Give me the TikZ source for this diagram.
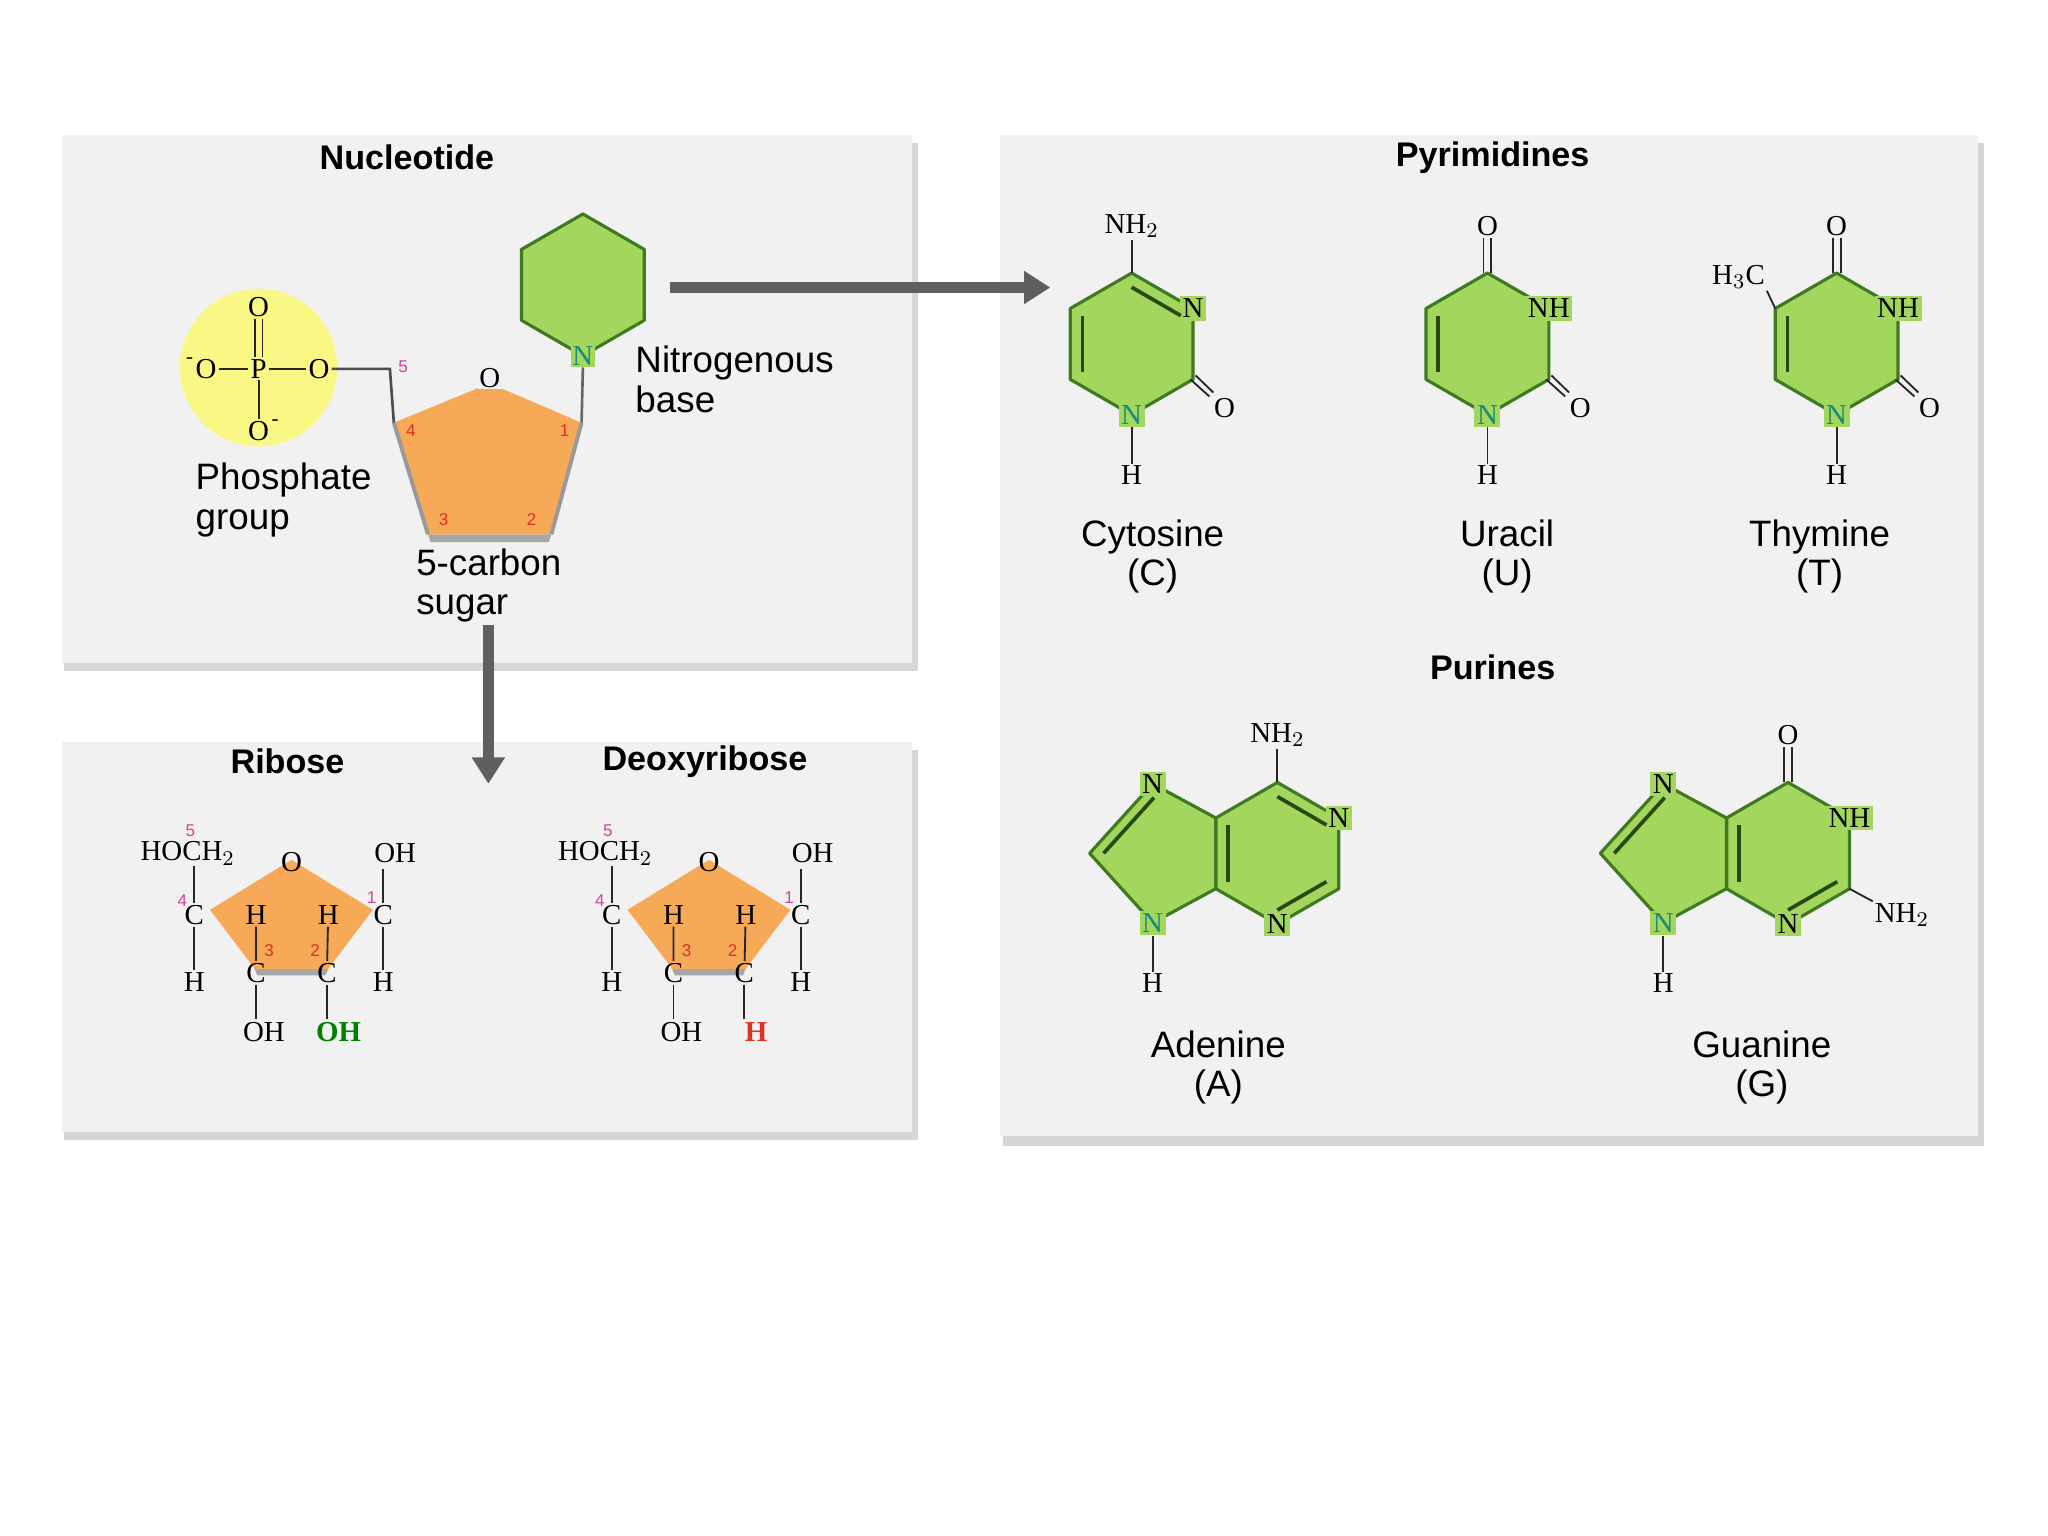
\documentclass[tikz,border=0pt]{standalone}
\usepackage{fontspec}
\setmainfont{Liberation Sans}
\newfontfamily\chem{Liberation Serif}
\usetikzlibrary{calc,arrows.meta}
\definecolor{panel}{HTML}{F1F1F1}
\definecolor{pshadow}{HTML}{D6D6D6}
\definecolor{ringgreen}{HTML}{A3D65C}
\definecolor{ringedge}{HTML}{3F7A22}
\definecolor{sugar}{HTML}{F6A957}
\definecolor{pyel}{HTML}{FAF885}
\definecolor{teal}{HTML}{1A8A7A}
\definecolor{magnum}{HTML}{D0459A}
\definecolor{rednum}{HTML}{E0301E}
\definecolor{arr}{HTML}{5F5F5F}
\tikzset{
 panelbox/.style={fill=panel,draw=none},
 shadowbox/.style={fill=pshadow,draw=none},
 title/.style={font=\fontsize{13}{15}\selectfont\bfseries},
 lbl/.style={font=\fontsize{14}{15}\selectfont,align=left,anchor=west},
 clbl/.style={font=\fontsize{14}{15}\selectfont,align=center},
 atom/.style={font=\chem\fontsize{11}{12}\selectfont,inner sep=0.6pt},
 ring/.style={fill=ringgreen,draw=ringedge,line width=1.2pt,line join=round},
 dblb/.style={draw=ringedge!60!black,line width=1.4pt},
 bond/.style={draw=black!85,line width=0.7pt},
 num/.style={font=\fontsize{6.5}{7}\selectfont,inner sep=0pt},
 bigarrow/.style={draw=arr,line width=4pt,-{Triangle[length=10pt,width=12pt]}},
}
\newcommand\hexring[2]{%
 \coordinate (#1c) at (#2);
 \foreach \i/\a in {t/270,ur/330,lr/30,b/90,ll/150,ul/210}{\coordinate (#1\i) at ($(#2)+(\a:54)$);}
 \draw[ring] (#1t)--(#1ur)--(#1lr)--(#1b)--(#1ll)--(#1ul)--cycle;}
\newcommand\dbl[3]{\draw[dblb] ($(#1)!0.2!(#3)$) -- ($(#2)!0.2!(#3)$);}
\begin{document}
\begin{tikzpicture}[x=0.5pt,y=-0.5pt]
\useasboundingbox[fill=white] (0,0) rectangle (1560,1170);
% panels
\fill[shadowbox] (49,109) rectangle (699,511);
\fill[panelbox] (47,103) rectangle (695,505);
\fill[shadowbox] (49,571) rectangle (699,868);
\fill[panelbox] (47,565) rectangle (695,862);
\fill[shadowbox] (764,109) rectangle (1511,873);
\fill[panelbox] (762,103) rectangle (1507,865);
\node[title] (tnuc) at (310,120) {Nucleotide};
\node[title] (tpyr) at (1137,120) {Pyrimidines};
\node[title] (tpur) at (1137,508) {Purines};
\node[title] (trib) at (219,580) {Ribose};
\node[title] (tdeo) at (537,580) {Deoxyribose};
% phosphate
\fill[pyel] (197,280) circle (60);
\node[atom] (P) at (197,281) {P};
\node[atom] (O1) at (157,281) {O};
\node[atom,anchor=east,inner sep=0pt] at ($(O1.west)+(0,-6)$) {\fontsize{8}{8}\selectfont -};
\node[atom] (O2) at (243,281) {O};
\node[atom] (O3) at (197,234) {O};
\node[atom] (O4) at (197,328) {O};
\node[atom,anchor=west,inner sep=0pt] at ($(O4.east)+(0,-6)$) {\fontsize{8}{8}\selectfont -};
\draw[bond] (O1)--(P) (P)--(O2);
\draw[bond] ([xshift=-1.5]P.north)--([xshift=-1.5]O3.south) ([xshift=1.5]P.north)--([xshift=1.5]O3.south);
\draw[bond] (P)--(O4);
% sugar
\coordinate (s0) at (373,292);
\coordinate (s1) at (443,322);
\coordinate (s2) at (420,407);
\coordinate (s3) at (326,407);
\coordinate (s4) at (300,322);
\fill[gray!70] (s3) -- (s2) -- ($(s2)+(-2,6)$) -- ($(s3)+(2,6)$) -- cycle;
\fill[sugar] (s0)--(s1)--(s2)--(s3)--(s4)--cycle;
\draw[gray!80,line width=1.5pt] (s1)--(s2) (s3)--(s4);
\node[atom,fill=panel] (sO) at (373,288) {O};
\node[num,text=rednum] at (313,328) {4};
\node[num,text=rednum] at (430,328) {1};
\node[num,text=rednum] at (338,396) {3};
\node[num,text=rednum] at (405,396) {2};
\coordinate (c5) at (297,281);
\draw[black!70,line width=1pt] (O2.east) -- (c5) -- (s4);
\node[num,text=magnum] at (307,279) {5};
% base hexagon
\hexring{nb}{444,217}
\node[atom,fill=ringgreen,text=teal] (nbN) at (nbb) {N};
\draw[black!60,line width=1pt] (nbN.south) -- (s1);
\node[lbl] (lnb) at (477,289) {Nitrogenous\\base};
\node[lbl] (lph) at (142,381) {Phosphate\\group};
\node[lbl] (lsu) at (310,446) {5-carbon\\sugar};
% arrows
\coordinate (a1s) at (510,219); \coordinate (a1e) at (800,219);
\draw[bigarrow] (a1s) -- (a1e);
\coordinate (a2s) at (372,476); \coordinate (a2e) at (372,597);
\draw[bigarrow] (a2s) -- (a2e);
% pyrimidines
\foreach \nm/\cx/\top/\ur in {cy/862/{NH$_2$}/N, ur/1133/O/NH, th/1399/O/NH}{
 \hexring{\nm}{\cx,262}
 \dbl{\nm ll}{\nm ul}{\nm c}
 \node[atom] (\nm T) at ($(\nm t)+(0,-36)$) {\top};
 \node[atom,fill=ringgreen,inner sep=1pt] (\nm N1) at (\nm ur) {\ur};
 \node[atom,text=teal,fill=ringgreen,inner sep=1pt] (\nm N3) at (\nm b) {N};
 \node[atom] (\nm H) at ($(\nm b)+(0,46)$) {H};
 \node[atom] (\nm O) at ($(\nm lr)+(24,22)$) {O};
 \draw[bond] (\nm N3.south)--(\nm H.north);
 \draw[bond] ([shift={(-2,0)}]\nm lr)--([shift={(-2,0)}]\nm O.north west) ([shift={(2,-3)}]\nm lr)--([shift={(1,-3)}]\nm O.north west);
}
\draw[bond] (cyt)--(cyT.south);
\dbl{cyt}{cyur}{cyc}
\foreach \nm in {ur,th}{
 \draw[bond] ([xshift=-1.5]\nm t)--([xshift=-1.5]\nm T.south) ([xshift=1.5]\nm t)--([xshift=1.5]\nm T.south);}
\node[atom] (thMe) at ($(thul)+(-28,-24)$) {H$_3$C};
\draw[bond] (thul)--(thMe.south east);
\node[clbl] (lcy) at (878,424) {Cytosine\\(C)};
\node[clbl] (lur) at (1148,424) {Uracil\\(U)};
\node[clbl] (lth) at (1386,424) {Thymine\\(T)};
% purines
\foreach \nm/\cx in {ad/973,gu/1362}{
 \coordinate (\nm p1) at ($(\cx,650)+(-47,-27)$);
 \coordinate (\nm p2) at ($(\cx,650)+(-95,-53)$);
 \coordinate (\nm p3) at ($(\cx,650)+(-143,0)$);
 \coordinate (\nm p4) at ($(\cx,650)+(-95,53)$);
 \coordinate (\nm p5) at ($(\cx,650)+(-47,27)$);
 \coordinate (\nm pc) at ($(\cx,650)+(-90,0)$);
 \draw[ring] (\nm p1)--(\nm p2)--(\nm p3)--(\nm p4)--(\nm p5)--cycle;
 \hexring{\nm}{\cx,650}
 \dbl{\nm p2}{\nm p3}{\nm pc}
 \dbl{\nm ll}{\nm ul}{\nm c}
 \node[atom,fill=ringgreen,inner sep=1pt] (\nm N7) at (\nm p2) {N};
 \node[atom,text=teal,fill=ringgreen,inner sep=1pt] (\nm N9) at (\nm p4) {N};
 \node[atom] (\nm H) at ($(\nm p4)+(0,46)$) {H};
 \draw[bond] (\nm N9.south)--(\nm H.north);
 \node[atom,fill=ringgreen,inner sep=1pt] (\nm N3) at (\nm b) {N};
}
\node[atom,fill=ringgreen,inner sep=1pt] (adN1) at (adur) {N};
\dbl{adt}{adur}{adc}
\dbl{adlr}{adb}{adc}
\node[atom] (adT) at ($(adt)+(0,-36)$) {NH$_2$};
\draw[bond] (adt)--(adT.south);
\node[atom,fill=ringgreen,inner sep=1pt] (guN1) at (guur) {NH};
\dbl{gulr}{gub}{guc}
\node[atom] (guT) at ($(gut)+(0,-36)$) {O};
\draw[bond] ([xshift=-1.5]gut)--([xshift=-1.5]guT.south) ([xshift=1.5]gut)--([xshift=1.5]guT.south);
\node[atom] (guA) at ($(gulr)+(40,20)$) {NH$_2$};
\draw[bond] (gulr)--(guA.north west);
\node[clbl] (lad) at (928,813) {Adenine\\(A)};
\node[clbl] (lgu) at (1342,813) {Guanine\\(G)};
% ribose / deoxyribose
\foreach \nm/\dx/\last/\lc in {rb/0/OH/{green!50!black}, dr/318/H/rednum}{
 \begin{scope}[xshift=\dx*0.5pt]
 \coordinate (\nm v1) at (160,693); \coordinate (\nm v0) at (222,655);
 \coordinate (\nm v2) at (284,693); \coordinate (\nm v3) at (250,738); \coordinate (\nm v4) at (194,738);
 \fill[gray!70] (\nm v4)--(\nm v3)--($(\nm v3)+(-2,5)$)--($(\nm v4)+(2,5)$)--cycle;
 \fill[sugar] (\nm v0)--(\nm v2)--(\nm v3)--(\nm v4)--(\nm v1)--cycle;
 \node[atom] (\nm O) at (222,657) {O};
 \node[atom] (\nm C4) at (148,697) {C};
 \node[atom] (\nm C1) at (292,697) {C};
 \node[atom] (\nm C3) at (195,741) {C};
 \node[atom] (\nm C2) at (249,741) {C};
 \node[atom] (\nm Ha) at (195,697) {H};
 \node[atom] (\nm Hb) at (250,697) {H};
 \node[atom] (\nm HO) at (143,650) {HOCH$_2$};
 \node[atom] (\nm OHt) at (301,650) {OH};
 \node[atom] (\nm H4) at (148,748) {H};
 \node[atom] (\nm H1) at (292,748) {H};
 \node[atom] (\nm OH3) at (201,786) {OH};
 \node[atom,text=\lc,font=\chem\fontsize{11}{12}\selectfont\bfseries] (\nm OH2) at (258,786) {\last};
 \draw[bond] (\nm C4.north)--(148,660) (\nm C4)--(\nm H4);
 \draw[bond] (\nm C1)--(292,662) (\nm C1)--(\nm H1);
 \draw[bond] (\nm Ha)--(\nm C3) (\nm Hb)--(\nm C2);
 \draw[bond] (\nm C3)--(195,776) (\nm C2)--(249,776);
 \node[num,text=magnum] at (145,633) {5};
 \node[num,text=magnum] at (139,686) {4};
 \node[num,text=magnum] at (283,684) {1};
 \node[num,text=rednum] at (205,724) {3};
 \node[num,text=rednum] at (240,724) {2};
 \end{scope}}
\end{tikzpicture}
\end{document}
